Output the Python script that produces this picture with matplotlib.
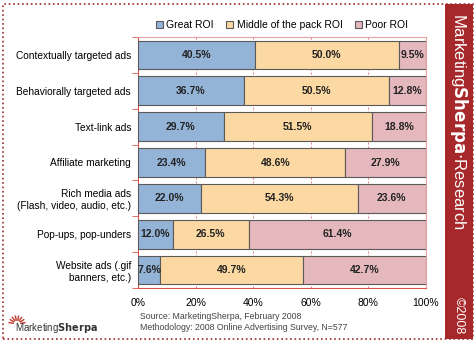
import matplotlib.pyplot as plt
import numpy as np
from matplotlib.patches import Rectangle

categories = ['Contextually targeted ads', 'Behaviorally targeted ads', 'Text-link ads',
              'Affiliate marketing', 'Rich media ads\n(Flash, video, audio, etc.)',
              'Pop-ups, pop-unders', 'Website ads (.gif\nbanners, etc.)']
great = [40.5, 36.7, 29.7, 23.4, 22.0, 12.0, 7.6]
middle = [50.0, 50.5, 51.5, 48.6, 54.3, 26.5, 49.7]
poor = [9.5, 12.8, 18.8, 27.9, 23.6, 61.4, 42.7]
series_names = ['Great ROI', 'Middle of the pack ROI', 'Poor ROI']
colors = ['#93b3d7', '#fcd8a2', '#e4b8bc']

W, H = 475, 342
FONT = 'Liberation Sans'


def fy(py):
    # pixel row from top -> figure fraction
    return 1 - py / H


fig = plt.figure(figsize=(W / 100, H / 100), dpi=100)
fig.patch.set_facecolor('white')

# outer frame + red sidebar
fig.add_artist(Rectangle((3 / W, fy(339)), 470 / W, 335 / H, transform=fig.transFigure,
                         fill=False, edgecolor='#9e2a2a', lw=1.2, linestyle=':'))
fig.add_artist(Rectangle((445 / W, fy(339)), 28 / W, 335 / H, transform=fig.transFigure,
                         facecolor='#a7282a', edgecolor='none'))
fig.text(459 / W, fy(121), r'Marketing$\bf{Sherpa}$$\cdot$Research', rotation=270,
         color='white', fontsize=12, ha='center', va='center', family=FONT)
fig.text(459 / W, fy(316), '\u00a92008', rotation=270, color='white', fontsize=9,
         ha='center', va='center', family=FONT)

ax = fig.add_axes([138 / W, fy(288), (426 - 138) / W, (288 - 37) / H])
y = np.arange(len(categories))
left = np.zeros(len(categories))
for vals, name, c in zip([great, middle, poor], series_names, colors):
    ax.barh(y, vals, left=left, height=0.8, color=c, edgecolor='#5a5a5a',
            lw=0.8, label=name, zorder=3)
    for yi, l, v in zip(y, left, vals):
        ax.text(l + v / 2, yi, f'{v:.1f}%', ha='center', va='center', fontsize=7.5,
                fontweight='bold', color='#222222', zorder=4, family=FONT)
    left += np.array(vals)

ax.set_xlim(0, 100)
ax.set_ylim(len(categories) - 0.5, -0.5)
ax.set_xticks([0, 20, 40, 60, 80, 100])
ax.set_xticklabels(['0%', '20%', '40%', '60%', '80%', '100%'], family=FONT, fontsize=7.5)
ax.set_yticks(y)
ax.set_yticklabels(categories, family=FONT, fontsize=7.3)
ax.tick_params(axis='y', length=0, pad=5)
ax.tick_params(axis='x', length=0, pad=7)
ax.set_yticks(np.arange(-0.5, len(categories), 1), minor=True)
ax.tick_params(axis='y', which='minor', length=4, color='#d9534f', direction='out')
ax.xaxis.grid(True, color='#e08080', linestyle=(0, (2, 2)), lw=0.7, zorder=1)
for s in ax.spines.values():
    s.set_color('#e8a0a0')
ax.spines['left'].set_color('#d9534f')
ax.spines['bottom'].set_color('#d9534f')

ax.legend(loc='lower center', bbox_to_anchor=(0.5, 0.99), ncol=3, frameon=False,
          handlelength=0.7, handleheight=0.7, handletextpad=0.3,
          columnspacing=1.2, prop={'family': FONT, 'size': 7.5})

fig.text(140 / W, fy(322), 'Source: MarketingSherpa, February 2008\n'
         'Methodology: 2008 Online Advertising Survey, N=577',
         fontsize=6.3, color='#444444', va='center', ha='left', family=FONT,
         linespacing=1.2)

# logo
fig.text(15 / W, fy(328), r'Marketing$\bf{Sherpa}$', fontsize=7, color='#333333',
         va='center', ha='left', family=FONT)
cx, cy = 17, 324
for a in np.linspace(100, 260, 8):
    r = np.radians(a)
    fig.add_artist(plt.Line2D([(cx + 4 * np.sin(r)) / W, (cx + 8 * np.sin(r)) / W],
                              [fy(cy + 4 * np.cos(r)), fy(cy + 8 * np.cos(r))],
                              transform=fig.transFigure, color='#c0392b', lw=1))

fig.savefig('out.png', dpi=100)
